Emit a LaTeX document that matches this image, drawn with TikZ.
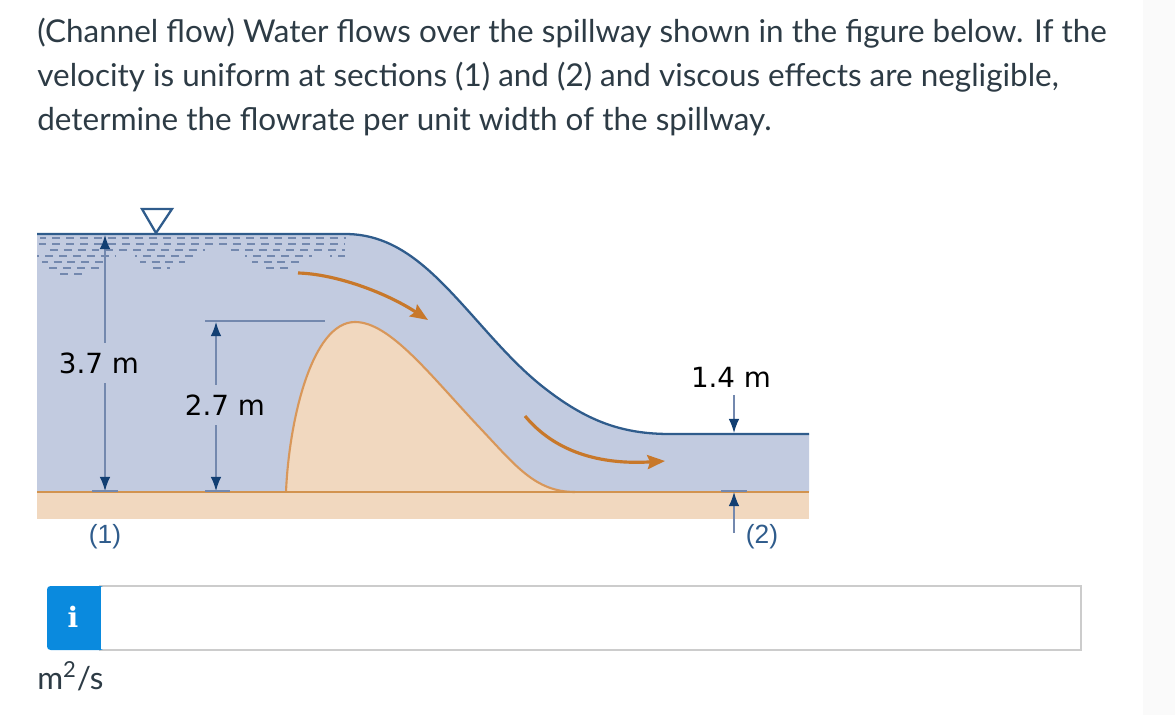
\documentclass[tikz,border=0pt]{standalone}
\usepackage{fontspec}
\usetikzlibrary{arrows.meta}
\setmainfont{Lato}
\newfontfamily\dimfont{DejaVu Sans}
\newfontfamily\tagfont{Liberation Sans}
\newfontfamily\infofont{DejaVu Serif}
\definecolor{watercol}{HTML}{C2CBE0}
\definecolor{groundcol}{HTML}{F1D8BF}
\definecolor{orangecol}{HTML}{C8782A}
\definecolor{basecol}{HTML}{D2934F}
\definecolor{bumpcol}{HTML}{D8975A}
\definecolor{navycol}{HTML}{2F5C8C}
\definecolor{dimcol}{HTML}{7388AE}
\definecolor{headcol}{HTML}{123F73}
\definecolor{textcol}{HTML}{2D3B45}
\definecolor{boxcol}{HTML}{CCCCCC}
\definecolor{infocol}{HTML}{0A8ADE}
\definecolor{sidecol}{HTML}{FAFAFA}
\tikzset{
    questionline/.style={anchor=base west, inner sep=0pt, text=textcol, font=\fontsize{17.9}{20}\selectfont},
    dimlabel/.style={inner sep=0pt, minimum height=0.8cm, font=\dimfont\fontsize{15.8}{18}\selectfont},
    sectionlabel/.style={inner sep=0pt, text=navycol, font=\tagfont\fontsize{15}{17}\selectfont},
    dimline/.style={draw=dimcol, line width=0.8pt, -{Latex[length=8pt,width=6pt,color=headcol]}},
    tickline/.style={draw=dimcol, line width=0.9pt},
    flowarrow/.style={draw=orangecol, line width=1.8pt, -{Stealth[length=10pt,width=8pt,inset=1.5pt]}},
    surface/.style={draw=navycol, line width=1.3pt}
}
\newcommand{\surfacepath}{(37, 234) -- (345, 234) .. controls (385, 234) and (415, 255) .. (447, 288)
    .. controls (480, 322) and (510, 362) .. (547, 390) .. controls (590, 423) and (625, 434) .. (670, 434) -- (809, 434)}
\newcommand{\bumppath}{(286, 492) .. controls (289, 420) and (312, 322) .. (355, 322)
    .. controls (390, 322) and (430, 375) .. (480, 428) .. controls (515, 465) and (535, 492) .. (575, 492)}
\begin{document}
\begin{tikzpicture}[x=0.02cm, y=-0.02cm]
    \useasboundingbox (0, 0) rectangle (1175, 715);
    \fill[sidecol] (1143, 0) rectangle (1175, 715);

    \node[questionline] (lineone) at (37, 43) {(Channel flow) Water flows over the spillway shown in the figure below. If the};
    \node[questionline] (linetwo) at (37, 87) {velocity is uniform at sections (1) and (2) and viscous effects are negligible,};
    \node[questionline] (linethree) at (37, 131) {determine the flowrate per unit width of the spillway.};

    % water, ground and the spillway
    \fill[watercol] \surfacepath -- (809, 492) -- (37, 492) -- cycle;
    \fill[groundcol] (37, 492) rectangle (809, 519);
    \fill[groundcol] \bumppath -- cycle;
    \draw[bumpcol, line width=1.2pt] \bumppath;
    \draw[basecol, line width=1.6pt] (37, 492) -- (809, 492);
    \draw[surface] \surfacepath;

    % dashes under the surface
    \foreach \y / \xa / \xb in {238/40/346, 244/37/345, 250/45/205, 250/226/345, 256/37/115, 256/135/195,
        256/245/312, 256/330/345, 262/42/105, 262/140/185, 262/252/300, 268/48/100, 268/152/170, 268/265/292, 274/56/88}
        {
            \draw[dimcol, line width=0.8pt, dash pattern=on 4.5pt off 3.4pt, dash phase=\y pt] (\xa, \y) -- (\xb, \y);
        }

    \draw[navycol, line width=1.3pt] (142, 209) -- (172, 209) -- (156, 233) -- cycle;

    \draw[flowarrow] (298, 273) .. controls (335, 274) and (385, 292) .. (428, 320);
    \draw[flowarrow] (525, 416) .. controls (555, 452) and (600, 465) .. (665, 461);

    % dimensions
    \coordinate (topa) at (105, 235);
    \coordinate (bota) at (105, 491);
    \coordinate (topb) at (216, 322);
    \coordinate (botb) at (216, 491);
    \coordinate (topc) at (734, 395);
    \coordinate (surfc) at (734, 433);
    \coordinate (lowc) at (734, 533);
    \coordinate (botc) at (734, 492);

    \node[dimlabel] (dima) at (99, 363) {3.7 m};
    \node[dimlabel] (dimb) at (225, 405) {2.7 m};
    \node[dimlabel] (dimc) at (731, 377) {1.4 m};
    \node[sectionlabel] (seca) at (105, 537) {(1)};
    \node[sectionlabel] (secb) at (762, 537) {(2)};

    \draw[dimline] (105, 0 |- dima.north) -- (topa);
    \draw[dimline] (105, 0 |- dima.south) -- (bota);
    \draw[dimline] (216, 0 |- dimb.north) -- (topb);
    \draw[dimline] (216, 0 |- dimb.south) -- (botb);
    \draw[dimline] (topc) -- (surfc);
    \draw[dimline] (lowc) -- (botc);

    \draw[tickline] (205, 321) -- (325, 321);
    \draw[dimcol, line width=0.7pt] (92, 491) -- (118, 491);
    \draw[dimcol, line width=0.7pt] (205, 491) -- (230, 491);
    \draw[dimcol, line width=0.7pt] (721, 491) -- (747, 491);

    % answer box
    \node[draw=boxcol, line width=1pt, fill=white, minimum width=19.62cm, minimum height=1.28cm, inner sep=0pt] (answer) at (590.5, 618) {};
    \fill[infocol, rounded corners=2pt] (47, 586) rectangle (104, 650);
    \fill[white] (100.5, 587) rectangle (104.5, 649);
    \node[inner sep=0pt, text=white, font=\infofont\bfseries\fontsize{16}{18}\selectfont] (info) at (73, 617) {i};
    \node[questionline] (unit) at (37, 689) {m\textsuperscript{2}/s};
\end{tikzpicture}
\end{document}
